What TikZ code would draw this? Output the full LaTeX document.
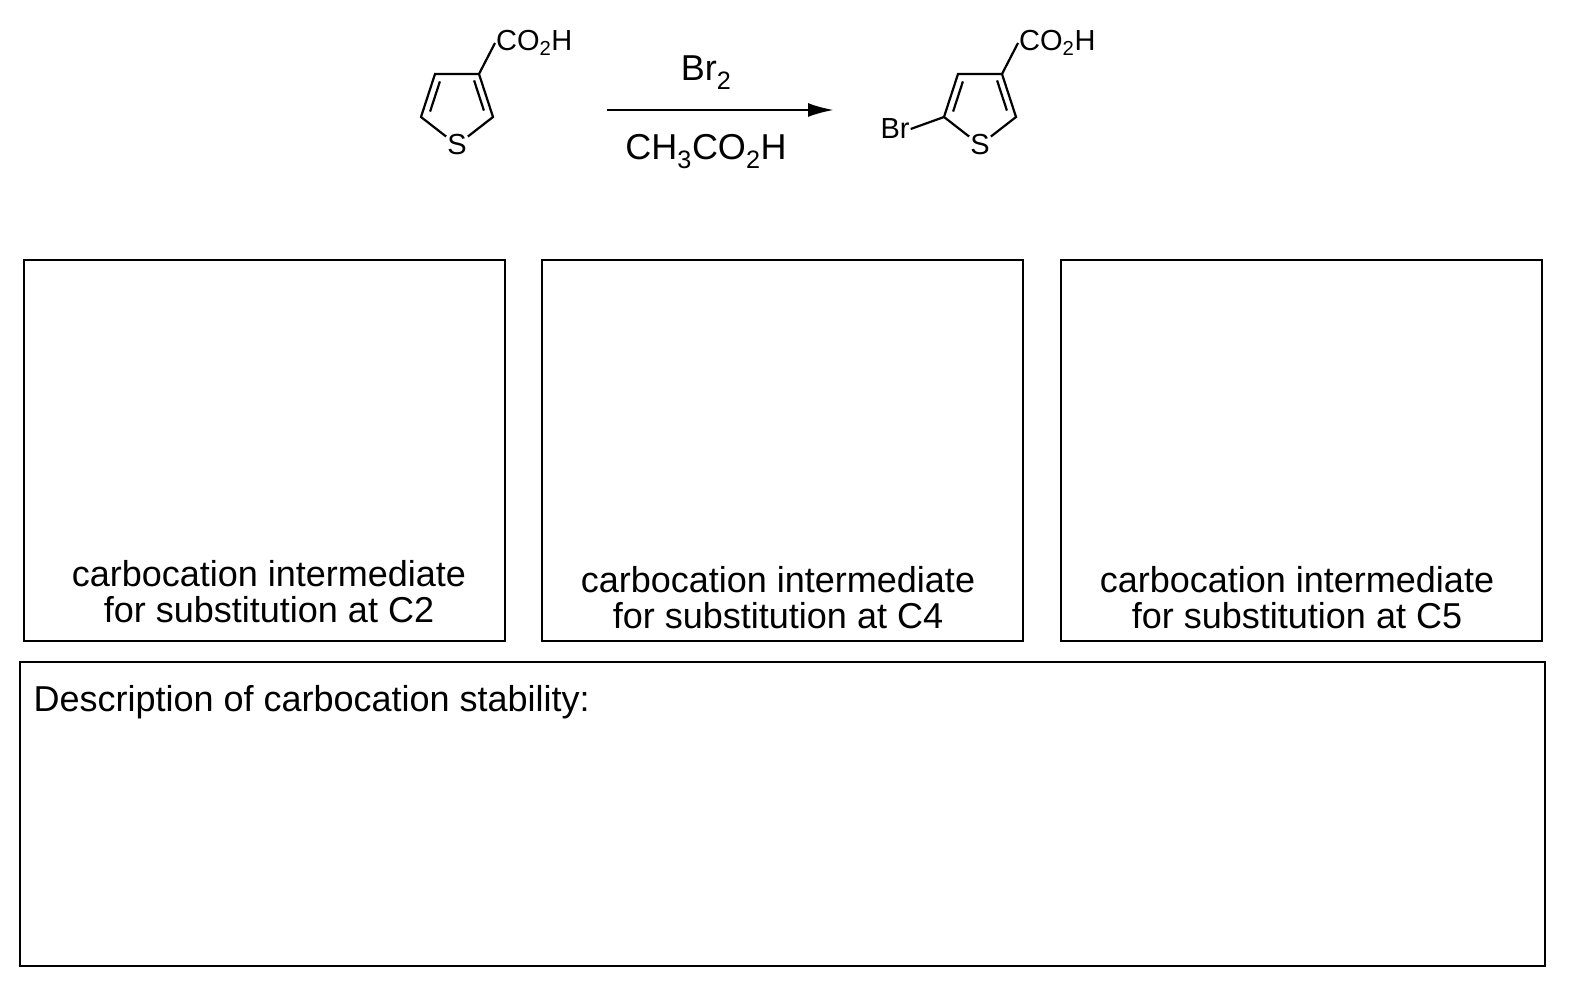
\documentclass[tikz,border=0pt]{standalone}
\usepackage{fontspec}
\setmainfont{Liberation Sans}
\usetikzlibrary{calc,arrows.meta}
\newcommand{\sbs}[1]{\textsubscript{#1}}
\begin{document}
\begin{tikzpicture}[x=1pt,y=-1pt,
  box/.style={draw,line width=2.6pt},
  lab/.style={font=\fontsize{36}{36}\selectfont,align=center},
  atom/.style={font=\fontsize{29}{30}\selectfont,inner sep=1pt},
  bond/.style={line width=2.2pt}]
\useasboundingbox (0,0) rectangle (1588,1008);
% left thiophene
\begin{scope}[shift={(457,105)}]
\node[atom] (S1) at (0,40) {S};
\coordinate (a2) at (36,12);
\coordinate (a3) at (22,-31);
\coordinate (a4) at (-22,-31);
\coordinate (a5) at (-36,12);
\draw[bond] (S1) -- (a2) -- (a3) -- (a4) -- (a5) -- (S1);
\draw[bond] ($(a2)!0.15!(a3)+(-7,0)$) -- ($(a2)!0.85!(a3)+(-7,0)$);
\draw[bond] ($(a4)!0.15!(a5)+(7,1)$) -- ($(a4)!0.85!(a5)+(7,1)$);
\node[atom,anchor=west] (c1) at (38,-62) {CO\sbs{2}H};
\draw[bond] (a3) -- (c1.west);
\end{scope}
% right thiophene
\begin{scope}[shift={(980,105)}]
\node[atom] (S2) at (0,40) {S};
\coordinate (b2) at (36,12);
\coordinate (b3) at (22,-31);
\coordinate (b4) at (-22,-31);
\coordinate (b5) at (-36,12);
\draw[bond] (S2) -- (b2) -- (b3) -- (b4) -- (b5) -- (S2);
\draw[bond] ($(b2)!0.15!(b3)+(-7,0)$) -- ($(b2)!0.85!(b3)+(-7,0)$);
\draw[bond] ($(b4)!0.15!(b5)+(7,1)$) -- ($(b4)!0.85!(b5)+(7,1)$);
\node[atom,anchor=west] (c2) at (38,-62) {CO\sbs{2}H};
\draw[bond] (b3) -- (c2.west);
\node[atom] (br) at (-85,24) {Br};
\draw[bond] (b5) -- (br.east);
\end{scope}
% arrow
\coordinate (ar1) at (607,110);
\coordinate (ar2) at (834,110);
\draw[line width=2.6pt,-{Latex[length=26pt,width=14pt]}] (ar1) -- (ar2);
\node[font=\fontsize{36}{36}\selectfont] (br2) at (706,73) {Br\sbs{2}};
\node[font=\fontsize{36}{36}\selectfont] (sol) at (706,152) {CH\sbs{3}CO\sbs{2}H};
% boxes
\draw[box] (24,260) rectangle (505,641);
\draw[box] (542,260) rectangle (1023,641);
\draw[box] (1061,260) rectangle (1542,641);
\draw[box] (20,662) rectangle (1545,966);
\node[lab] (t1) at (269,592) {carbocation intermediate\\for substitution at C2};
\node[lab] (t2) at (778,598) {carbocation intermediate\\for substitution at C4};
\node[lab] (t3) at (1297,598) {carbocation intermediate\\for substitution at C5};
\node[lab,anchor=west] (d) at (30,702) {Description of carbocation stability:};
\end{tikzpicture}
\end{document}
